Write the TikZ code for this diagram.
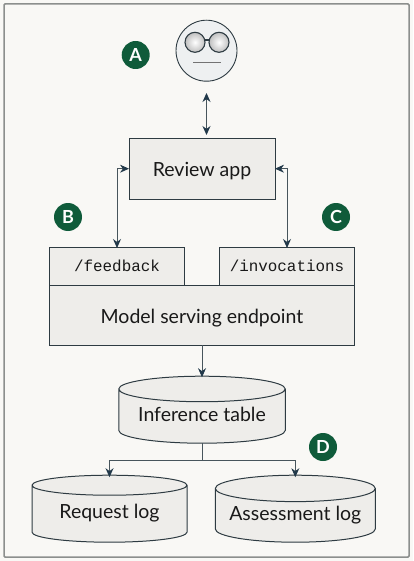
\documentclass[tikz,border=0pt]{standalone}
\usepackage{fontspec}
\setmainfont{Lato}
\newfontfamily\endpointfont{Liberation Mono}
\usetikzlibrary{arrows.meta, shapes.geometric}
\definecolor{pagebg}{HTML}{F9F8F5}
\definecolor{framegray}{HTML}{8C8F8D}
\definecolor{boxfill}{HTML}{EEEDEA}
\definecolor{edgedark}{HTML}{2E3B42}
\definecolor{linkgray}{HTML}{47555C}
\definecolor{arrowslate}{HTML}{22394A}
\definecolor{badgegreen}{HTML}{0F5B3A}
\definecolor{facefill}{HTML}{EEF0F1}
\tikzset{
  box/.style={
    draw=edgedark,
    fill=boxfill,
    line width=1pt,
    inner sep=0pt,
    outer sep=0pt,
    text height=20pt,
    text depth=4pt,
    font=\fontsize{19.5}{22}\selectfont,
    text=black!90
  },
  route box/.style={
    box,
    text height=12pt,
    text depth=1pt,
    font=\endpointfont\fontsize{15.9}{18}\selectfont
  },
  log drum/.style={
    box,
    cylinder,
    shape border rotate=90,
    aspect=0.2,
    anchor=shape center,
    text height=14pt,
    text depth=4pt,
    cylinder uses custom fill,
    cylinder body fill=boxfill,
    cylinder end fill=pagebg
  },
  link/.style={
    line width=0.9pt,
    color=linkgray,
    >={Stealth[length=9pt, width=8pt, color=arrowslate]}
  },
  badge/.style={
    circle,
    fill=badgegreen,
    text=white,
    inner sep=0pt,
    minimum size=28pt,
    font=\fontsize{18}{18}\selectfont\bfseries
  }
}
\begin{document}
\begin{tikzpicture}[x=1pt, y=-1pt]
    % 页面与外框
    \useasboundingbox (0,0) rectangle (413,561);
    \fill[pagebg] (0,0) rectangle (413,561);
    \draw[framegray, line width=1.5pt, rounded corners=1pt] (4,4) rectangle (409,557);

    % 用户头像
    \node[circle, draw=edgedark, fill=facefill, line width=0.9pt, minimum size=61pt, inner sep=0pt, outer sep=0pt] (face) at (206.5,50.7) {};
    \foreach \x in {195,219} {
      \shade[inner color=white, outer color=black!25] (\x,42.3) circle (10);
      \draw[edgedark, line width=1.1pt] (\x,42.3) circle (10);
    }
    \draw[edgedark, line width=2.5pt] (205,40) -- (209,40);
    \draw[black!55, line width=1.4pt] (193,62.7) -- (220.5,62.7);

    % 方框
    \node[box, minimum width=146pt, minimum height=61pt] (review) at (202,168.7) {Review app};
    \node[route box, minimum width=135.5pt, minimum height=38pt] (feedback) at (117,266) {/feedback};
    \node[route box, minimum width=135.5pt, minimum height=38pt] (invocations) at (287,266) {/invocations};
    \node[box, minimum width=305.5pt, minimum height=60pt] (endpoint) at (202,315.2) {Model serving endpoint};

    % 圆柱
    \node[log drum, minimum width=166.5pt, minimum height=67pt] (table) at (202,409.7) {Inference table};
    \node[log drum, minimum width=155pt, minimum height=67pt] (request) at (109.5,508.7) {Request log};
    \node[log drum, minimum width=160pt, minimum height=67pt] (assessment) at (295.3,508.7) {Assessment log};

    % 字母标记
    \node[badge] (markA) at (135.7,55) {A};
    \node[badge] (markB) at (68,217) {B};
    \node[badge] (markC) at (336,217) {C};
    \node[badge] (markD) at (323,447) {D};

    % 连线
    \coordinate (faceport) at (206.5,93);
    \coordinate (reviewport) at (206.5,135);
    \coordinate (split) at (202,460);
    \draw[link, <->] (faceport) -- (reviewport);
    \draw[link, <->] (review.west) -| ([yshift=-1pt]feedback.north);
    \draw[link, <->] (review.east) -| ([yshift=-1pt]invocations.north);
    \draw[link, ->] (endpoint.south) -- ([yshift=-1pt]table.north);
    \draw[link] (table.south) -- (split);
    \draw[link, ->] (split) -| ([yshift=-2pt]request.north);
    \draw[link, ->] (split) -| ([yshift=-2pt]assessment.north);
\end{tikzpicture}
\end{document}
